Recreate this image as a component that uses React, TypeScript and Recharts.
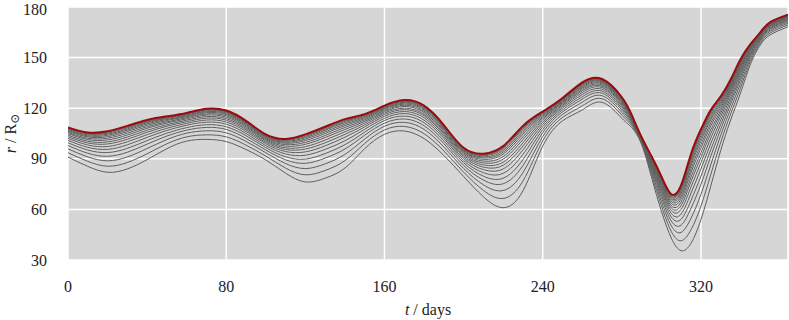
import React from 'react';
import { LineChart, Line, XAxis, YAxis, CartesianGrid } from 'recharts';

// time samples (days)
const days = [0, 10, 20, 30, 40, 50, 60, 70, 80, 90, 100, 110, 120, 130, 140, 150, 160, 170, 180, 190, 200, 210, 220, 230, 240, 250, 260, 270, 280, 285, 290, 295, 300, 305, 310, 315, 320, 325, 330, 335, 340, 345, 350, 355, 364];

// gray iterations, lowest first
const line00 = [91, 85.5, 82, 84, 89.5, 96, 100.5, 101.5, 100.2, 95.5, 89.3, 81.5, 76.3, 78.5, 84.5, 96, 104.5, 106.5, 102, 92, 79.5, 67.5, 61, 71, 97.5, 112.5, 119, 123.5, 114, 108.5, 98.5, 79, 59, 43, 35.5, 40, 54, 74, 95, 113, 129, 146, 157.5, 163.5, 168.3];
const line01 = [93.6, 88.5, 85.6, 87.8, 93.0, 98.9, 103.0, 104.2, 103.0, 98.1, 91.6, 84.5, 80.5, 83.1, 88.9, 99.1, 107.1, 109.2, 104.9, 94.7, 82.1, 71.3, 66.5, 76.8, 100.6, 114.5, 121.4, 125.6, 115.9, 109.6, 99.1, 80.9, 62.1, 46.9, 41.4, 48.0, 62.0, 80.8, 99.8, 116.6, 132.0, 147.8, 158.6, 164.6, 169.4];
const line02 = [95.9, 91.1, 88.8, 91.1, 96.1, 101.4, 105.2, 106.6, 105.4, 100.3, 93.6, 87.2, 84.2, 87.0, 92.6, 101.7, 109.3, 111.6, 107.5, 97.0, 84.3, 74.6, 71.2, 81.8, 103.2, 116.3, 123.6, 127.4, 117.5, 110.6, 99.7, 82.5, 64.7, 50.3, 46.4, 54.8, 69.0, 86.6, 104.0, 119.7, 134.6, 149.4, 159.6, 165.6, 170.3];
const line03 = [97.9, 93.3, 91.5, 93.9, 98.7, 103.5, 107.0, 108.6, 107.4, 102.1, 95.2, 89.4, 87.3, 90.4, 95.8, 104.0, 111.1, 113.6, 109.6, 99.0, 86.1, 77.4, 75.2, 86.0, 105.5, 117.8, 125.4, 128.9, 118.9, 111.4, 100.2, 83.9, 67.0, 53.1, 50.7, 60.7, 74.9, 91.6, 107.5, 122.4, 136.8, 150.7, 160.4, 166.4, 171.1];
const line04 = [99.5, 95.2, 93.7, 96.2, 100.8, 105.2, 108.5, 110.2, 109.0, 103.7, 96.6, 91.2, 89.8, 93.1, 98.4, 105.8, 112.7, 115.3, 111.4, 100.6, 87.7, 79.7, 78.5, 89.5, 107.3, 119.0, 126.8, 130.1, 120.0, 112.1, 100.6, 85.0, 68.8, 55.5, 54.2, 65.4, 79.7, 95.6, 110.4, 124.5, 138.6, 151.8, 161.1, 167.1, 171.8];
const line05 = [100.9, 96.8, 95.6, 98.3, 102.7, 106.8, 109.9, 111.7, 110.5, 105.0, 97.8, 92.9, 92.1, 95.6, 100.7, 107.5, 114.0, 116.8, 112.9, 102.1, 89.0, 81.8, 81.4, 92.6, 109.0, 120.1, 128.1, 131.2, 121.0, 112.7, 100.9, 86.0, 70.5, 57.6, 57.3, 69.7, 84.0, 99.2, 112.9, 126.4, 140.2, 152.7, 161.7, 167.7, 172.3];
const line06 = [102.1, 98.2, 97.3, 100.1, 104.3, 108.1, 111.0, 113.0, 111.8, 106.2, 98.9, 94.3, 94.1, 97.7, 102.8, 108.9, 115.2, 118.0, 114.3, 103.3, 90.2, 83.6, 84.0, 95.3, 110.4, 121.0, 129.3, 132.2, 121.9, 113.2, 101.2, 86.9, 71.9, 59.4, 60.1, 73.4, 87.7, 102.4, 115.2, 128.1, 141.6, 153.6, 162.2, 168.2, 172.8];
const line07 = [103.1, 99.4, 98.8, 101.6, 105.7, 109.3, 112.0, 114.1, 112.9, 107.2, 99.8, 95.5, 95.8, 99.5, 104.5, 110.1, 116.2, 119.1, 115.5, 104.4, 91.2, 85.1, 86.2, 97.6, 111.6, 121.8, 130.3, 133.0, 122.6, 113.7, 101.5, 87.6, 73.1, 60.9, 62.4, 76.6, 90.9, 105.1, 117.1, 129.6, 142.8, 154.3, 162.7, 168.7, 173.3];
const line08 = [104.0, 100.4, 100.0, 102.9, 106.9, 110.2, 112.9, 115.0, 113.8, 108.1, 100.6, 96.5, 97.2, 101.1, 106.0, 111.2, 117.1, 120.0, 116.4, 105.3, 92.1, 86.4, 88.0, 99.5, 112.7, 122.5, 131.1, 133.7, 123.3, 114.1, 101.7, 88.3, 74.2, 62.2, 64.4, 79.2, 93.6, 107.3, 118.7, 130.8, 143.8, 154.9, 163.1, 169.1, 173.6];
const line09 = [104.9, 101.4, 101.2, 104.1, 108.1, 111.2, 113.7, 115.9, 114.7, 108.9, 101.3, 97.5, 98.6, 102.6, 107.4, 112.2, 117.9, 121.0, 117.4, 106.2, 92.9, 87.6, 89.8, 101.4, 113.7, 123.2, 131.9, 134.4, 123.9, 114.4, 101.9, 88.9, 75.2, 63.5, 66.3, 81.9, 96.3, 109.6, 120.3, 132.0, 144.8, 155.5, 163.4, 169.4, 174.0];
const line10 = [105.6, 102.2, 102.2, 105.2, 109.0, 111.9, 114.4, 116.6, 115.5, 109.6, 101.9, 98.4, 99.7, 103.8, 108.6, 113.0, 118.6, 121.7, 118.2, 106.9, 93.6, 88.7, 91.3, 103.0, 114.5, 123.7, 132.5, 135.0, 124.4, 114.7, 102.1, 89.4, 76.0, 64.6, 67.9, 84.0, 98.4, 111.4, 121.6, 132.9, 145.6, 156.0, 163.7, 169.7, 174.3];
const line11 = [106.3, 103.0, 103.1, 106.2, 109.9, 112.7, 115.0, 117.3, 116.2, 110.3, 102.5, 99.2, 100.8, 105.0, 109.7, 113.8, 119.3, 122.4, 119.0, 107.7, 94.3, 89.7, 92.8, 104.5, 115.3, 124.2, 133.2, 135.5, 124.9, 115.0, 102.2, 89.9, 76.8, 65.6, 69.4, 86.1, 100.5, 113.2, 122.8, 133.9, 146.4, 156.4, 164.0, 170.0, 174.6];
const line12 = [106.8, 103.6, 103.9, 107.0, 110.7, 113.3, 115.5, 117.9, 116.8, 110.8, 103.0, 99.8, 101.7, 106.0, 110.6, 114.5, 119.8, 123.0, 119.6, 108.2, 94.8, 90.5, 93.9, 105.7, 116.0, 124.7, 133.7, 135.9, 125.3, 115.3, 102.4, 90.3, 77.5, 66.4, 70.6, 87.7, 102.2, 114.5, 123.8, 134.6, 147.0, 156.8, 164.3, 170.3, 174.8];
const line13 = [107.4, 104.2, 104.6, 107.7, 111.4, 113.9, 116.0, 118.4, 117.3, 111.3, 103.4, 100.4, 102.5, 106.9, 111.5, 115.1, 120.3, 123.5, 120.1, 108.7, 95.3, 91.2, 94.9, 106.8, 116.6, 125.1, 134.2, 136.3, 125.6, 115.5, 102.5, 90.6, 78.1, 67.2, 71.8, 89.3, 103.8, 115.9, 124.8, 135.3, 147.6, 157.2, 164.5, 170.5, 175.0];
const line14 = [107.8, 104.7, 105.2, 108.4, 111.9, 114.3, 116.5, 118.9, 117.8, 111.7, 103.8, 100.9, 103.2, 107.6, 112.2, 115.6, 120.7, 124.0, 120.6, 109.2, 95.7, 91.9, 95.9, 107.8, 117.1, 125.4, 134.6, 136.7, 125.9, 115.7, 102.6, 90.9, 78.6, 67.8, 72.7, 90.6, 105.1, 117.0, 125.6, 135.9, 148.1, 157.5, 164.7, 170.7, 175.2];
const line15 = [108.2, 105.1, 105.7, 108.9, 112.4, 114.7, 116.8, 119.2, 118.1, 112.1, 104.1, 101.3, 103.8, 108.2, 112.8, 116.0, 121.1, 124.3, 121.0, 109.6, 96.1, 92.4, 96.6, 108.5, 117.5, 125.7, 134.9, 137.0, 126.2, 115.8, 102.7, 91.2, 79.0, 68.4, 73.5, 91.7, 106.2, 117.9, 126.2, 136.4, 148.5, 157.7, 164.8, 170.8, 175.3];

// final (red) curve
const redLine = [108.6, 105.6, 106.3, 109.5, 113, 115.2, 117.2, 119.7, 118.6, 112.5, 104.5, 101.8, 104.5, 109, 113.5, 116.5, 121.5, 124.8, 121.5, 110, 96.5, 93, 97.5, 109.5, 118, 126, 135.3, 137.3, 126.5, 116, 102.8, 91.5, 79.5, 69, 74.5, 93, 107.5, 119, 127, 137, 149, 158, 165, 171, 175.5];

const xTicks = [0, 80, 160, 240, 320];
const yTicks = [30, 60, 90, 120, 150, 180];

const grayLines = [line00, line01, line02, line03, line04, line05, line06, line07, line08, line09, line10, line11, line12, line13, line14, line15];

const data = days.map((d, i) => {
  const row: Record<string, number> = { day: d, red: redLine[i] };
  grayLines.forEach((arr, k) => {
    row['g' + k] = arr[i];
  });
  return row;
});

const FONT = '"Liberation Serif", "DejaVu Serif", serif';

const XLabel = (props: any) => {
  const vb = props.viewBox || { x: 68, y: 260, width: 720, height: 40 };
  const cx = vb.x + vb.width / 2;
  return (
    <text x={cx} y={vb.y + 55} textAnchor="middle" fontFamily={FONT} fontSize={16} fill="#222">
      <tspan fontStyle="italic">t</tspan>
      <tspan> / days</tspan>
    </text>
  );
};

const YLabel = (props: any) => {
  const vb = props.viewBox || { x: 8, y: 7, width: 60, height: 253 };
  const x = vb.x + 8;
  const y = vb.y + vb.height / 2;
  return (
    <text x={x} y={y} transform={`rotate(-90, ${x}, ${y})`} textAnchor="middle" fontFamily={FONT} fontSize={16} fill="#222">
      <tspan fontStyle="italic">r</tspan>
      <tspan> / R</tspan>
      <tspan fontSize={12} dy={3}>⊙</tspan>
    </text>
  );
};

export default function App() {
  return (
    <div style={{ position: 'absolute', left: 0, top: 0 }}>
      <LineChart width={789} height={320} data={data} margin={{ top: 7, right: 1, bottom: 20, left: 8 }}>
        <CartesianGrid fill="#d6d6d6" stroke="#ffffff" strokeWidth={1.5} />
        <XAxis
          dataKey="day"
          type="number"
          domain={[0, 364]}
          ticks={xTicks}
          allowDataOverflow
          axisLine={false}
          tickLine={false}
          tickSize={0}
          tickMargin={21}
          height={40}
          tick={{ fontFamily: FONT, fontSize: 16, fill: '#222' }}
          label={XLabel}
        />
        <YAxis
          type="number"
          domain={[30, 180]}
          ticks={yTicks}
          allowDataOverflow
          axisLine={false}
          tickLine={false}
          tickSize={0}
          tickMargin={21}
          width={60}
          tick={{ fontFamily: FONT, fontSize: 16, fill: '#222' }}
          label={YLabel}
        />
        {grayLines.map((_, k) => (
          <Line
            key={k}
            dataKey={'g' + k}
            type="natural"
            stroke="#5e5e5e"
            strokeWidth={1}
            dot={false}
            activeDot={false}
            isAnimationActive={false}
          />
        ))}
        <Line dataKey="red" type="natural" stroke="#9a0c0c" strokeWidth={2} dot={false} activeDot={false} isAnimationActive={false} />
      </LineChart>
    </div>
  );
}
